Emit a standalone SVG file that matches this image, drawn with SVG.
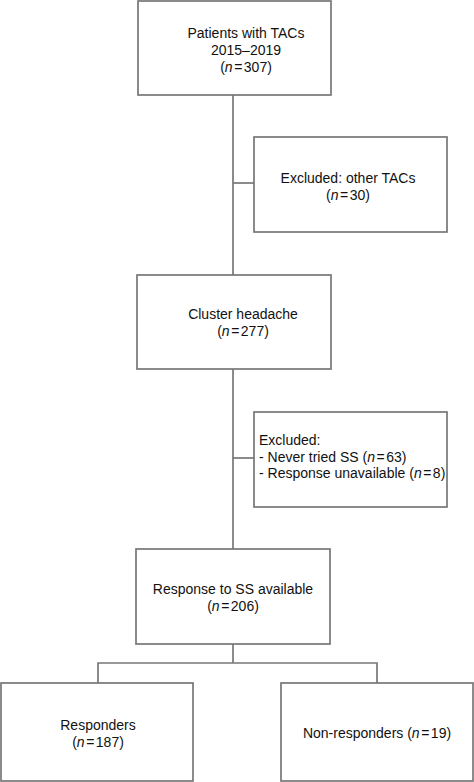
<svg xmlns="http://www.w3.org/2000/svg" width="474" height="782" viewBox="0 0 474 782">
<style>
.box{fill:#fff;stroke:#777;stroke-width:1.7}
.con{fill:none;stroke:#777;stroke-width:1.7}
text{font-family:"Liberation Sans",Arial,sans-serif;font-size:14px;fill:#111}
.c{text-anchor:middle}
.i{font-style:italic}
</style>
<rect width="474" height="782" fill="#fff"/>
<g id="connectors">
<path class="con" d="M233,95 V275"/>
<path class="con" d="M233,183 H254"/>
<path class="con" d="M233,369 V549"/>
<path class="con" d="M233,458 H254"/>
<path class="con" d="M233,644 V663"/>
<path class="con" d="M98,683 V663 H377 V683"/>
</g>
<g id="n1">
<rect class="box" x="138" y="1" width="193" height="94"/>
<text class="c" x="246" y="38">Patients with TACs</text>
<text class="c" x="246" y="55">2015–2019</text>
<text class="c" x="246" y="72">(<tspan class="i">n</tspan><tspan dx="1.5">=</tspan><tspan dx="1.5">307)</tspan></text>
</g>
<g id="n2">
<rect class="box" x="254" y="137" width="193" height="95"/>
<text class="c" x="348" y="183">Excluded: other TACs</text>
<text class="c" x="348" y="200">(<tspan class="i">n</tspan><tspan dx="1.5">=</tspan><tspan dx="1.5">30)</tspan></text>
</g>
<g id="n3">
<rect class="box" x="137" y="275" width="194" height="94"/>
<text class="c" x="243" y="319">Cluster headache</text>
<text class="c" x="243" y="336">(<tspan class="i">n</tspan><tspan dx="1.5">=</tspan><tspan dx="1.5">277)</tspan></text>
</g>
<g id="n4">
<rect class="box" x="254" y="412" width="193" height="95"/>
<text x="259" y="445">Excluded:</text>
<text x="259" y="462">- Never tried SS (<tspan class="i">n</tspan><tspan dx="1.5">=</tspan><tspan dx="1.5">63)</tspan></text>
<text x="259" y="478">- Response unavailable (<tspan class="i">n</tspan><tspan dx="1.5">=</tspan><tspan dx="1.5">8)</tspan></text>
</g>
<g id="n5">
<rect class="box" x="136" y="549" width="194" height="95"/>
<text class="c" x="233" y="594">Response to SS available</text>
<text class="c" x="233" y="611">(<tspan class="i">n</tspan><tspan dx="1.5">=</tspan><tspan dx="1.5">206)</tspan></text>
</g>
<g id="n6">
<rect class="box" x="1" y="683" width="192" height="98"/>
<text class="c" x="98" y="730">Responders</text>
<text class="c" x="98" y="747">(<tspan class="i">n</tspan><tspan dx="1.5">=</tspan><tspan dx="1.5">187)</tspan></text>
</g>
<g id="n7">
<rect class="box" x="281" y="683" width="192" height="98"/>
<text class="c" x="377" y="738">Non-responders (<tspan class="i">n</tspan><tspan dx="1.5">=</tspan><tspan dx="1.5">19)</tspan></text>
</g>
</svg>
